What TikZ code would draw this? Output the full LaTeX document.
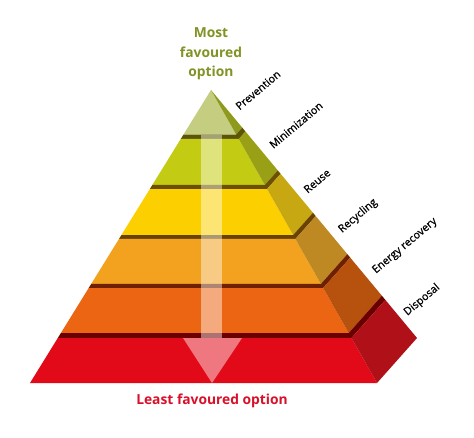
\documentclass[tikz,border=0pt]{standalone}
\usepackage{fontspec}
\setmainfont{Open Sans}
\newfontfamily\labfont[FakeBold=0.8]{Open Sans}
\usetikzlibrary{calc}
\definecolor{cTopF}{HTML}{C4CD80}
\definecolor{cTopS}{HTML}{8E9A1C}
\definecolor{cL2F}{HTML}{C3CC12}
\definecolor{cL2S}{HTML}{9AA016}
\definecolor{cL2T}{HTML}{5C5406}
\definecolor{cL3F}{HTML}{FCD000}
\definecolor{cL3S}{HTML}{C8A812}
\definecolor{cL3T}{HTML}{6A5000}
\definecolor{cL4F}{HTML}{F2A21E}
\definecolor{cL4S}{HTML}{BE8822}
\definecolor{cL4T}{HTML}{6A4200}
\definecolor{cL5F}{HTML}{EB6512}
\definecolor{cL5S}{HTML}{B6520E}
\definecolor{cL5T}{HTML}{6E2000}
\definecolor{cL6F}{HTML}{E20A18}
\definecolor{cL6S}{HTML}{B01018}
\definecolor{cL6T}{HTML}{6A0000}
\definecolor{cMost}{HTML}{7F9424}
\definecolor{cLeast}{HTML}{D8102A}
\tikzset{
  lab/.style={font=\labfont\fontsize{10.8}{12}\selectfont, rotate=40, text=black, inner sep=0pt},
  title/.style={font=\bfseries\fontsize{13.8}{19.5}\selectfont, align=center, inner sep=0pt},
}
\newcommand{\layer}[5]{% tt tb front side
  \fill[#3] ($(A)!#1!(BL)$) -- ($(A)!#1!(BR)$) -- ($(A)!#2!(BR)$) -- ($(A)!#2!(BL)$) -- cycle;
  \fill[#4] ($(A)!#1!(BR)$) -- ($(A)!#1!(CR)$) -- ($(A)!#2!(CR)$) -- ($(A)!#2!(BR)$) -- cycle;
}
\newcommand{\strip}[3]{% tb of upper, tt of lower, colour
  \fill[#3] ($(A)!#1!(BL)$) -- ($(A)!#1!(BR)$) -- ($(A)!#1!(CR)$) -- ($(A)!#2!(CR)$) -- ($(A)!#2!(BR)$) -- ($(A)!#2!(BL)$) -- cycle;
}
\begin{document}
\begin{tikzpicture}[x=1pt,y=-1pt]
\useasboundingbox (0,0) rectangle (474,437);
\fill[white] (0,0) rectangle (474,437);
\coordinate (A) at (211,90);
\coordinate (BL) at (30,383);
\coordinate (BR) at (377,383);
\coordinate (CR) at (417,338);
% layers
\fill[cTopF] (A) -- ($(A)!0.1519!(BR)$) -- ($(A)!0.1519!(BL)$) -- cycle;
\fill[cTopS] (A) -- ($(A)!0.1519!(CR)$) -- ($(A)!0.1519!(BR)$) -- cycle;
\strip{0.1519}{0.1672}{cL2T}
\layer{0.1672}{0.3242}{cL2F}{cL2S}{}
\strip{0.3242}{0.3379}{cL3T}
\layer{0.3379}{0.4949}{cL3F}{cL3S}{}
\strip{0.4949}{0.5085}{cL4T}
\layer{0.5085}{0.6621}{cL4F}{cL4S}{}
\strip{0.6621}{0.6758}{cL5T}
\layer{0.6758}{0.8294}{cL5F}{cL5S}{}
\strip{0.8294}{0.8464}{cL6T}
\layer{0.8464}{1}{cL6F}{cL6S}{}
% arrow
\coordinate (s1) at (201,134.5);
\coordinate (s2) at (222,338);
\coordinate (h1) at (183,338);
\coordinate (h2) at (242,338);
\coordinate (tip) at (212,383);
\fill[white, opacity=0.45] (s1) rectangle (s2);
\fill[white, opacity=0.45] (h1) -- (h2) -- (tip) -- cycle;
% titles
\node[title, text=cMost] (most) at (211,54) {Most\\favoured\\option};
\node[title, text=cLeast] (least) at (212,401) {Least favoured option};
% labels
\node[lab] (prev) at (258,90) {Prevention};
\node[lab] (mini) at (296,125) {Minimization};
\node[lab] (reuse) at (317,181) {Reuse};
\node[lab] (recy) at (358,216) {Recycling};
\node[lab] (ener) at (405,246) {Energy recovery};
\node[lab] (disp) at (422,300) {Disposal};
\end{tikzpicture}
\end{document}
